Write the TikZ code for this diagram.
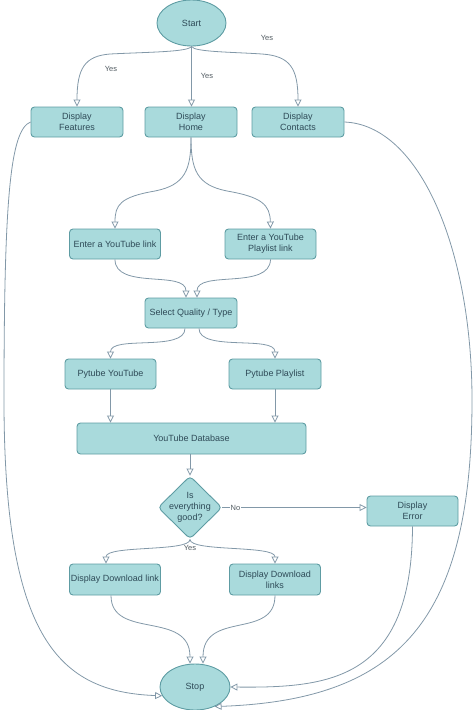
\documentclass[tikz,border=0pt]{standalone}
\usepackage{fontspec}
\setmainfont{Liberation Sans}
\usetikzlibrary{shapes.geometric,arrows.meta}
\definecolor{boxfill}{HTML}{A9DADC}
\definecolor{boxdraw}{HTML}{5E9CA3}
\definecolor{boxtext}{HTML}{2E4A57}
\definecolor{connc}{HTML}{8298A8}
\definecolor{lblc}{HTML}{505A60}
\begin{document}
\begin{tikzpicture}[x=1pt,y=-1pt,
  box/.style={draw=boxdraw, fill=boxfill, rounded corners=3.5pt, line width=0.9pt,
    minimum width=92pt, minimum height=30pt, inner sep=0pt, align=center,
    font=\fontsize{9}{11}\selectfont, text=boxtext},
  term/.style={ellipse, draw=boxdraw, fill=boxfill, line width=0.9pt, inner sep=0pt,
    font=\fontsize{9}{11}\selectfont, text=boxtext},
  conn/.style={draw=connc, line width=0.8pt, -{Triangle[open,length=7pt,width=7pt]}},
  lbl/.style={font=\fontsize{7.5}{9}\selectfont, text=lblc, inner sep=0.8pt}]
\useasboundingbox (0,0) rectangle (474,710);

% nodes
\node[term, minimum width=69pt, minimum height=46pt] (start) at (191.5,23) {Start};
\node[box] (feat) at (77,122) {Display\\Features};
\node[box] (home) at (191,122) {Display\\Home};
\node[box] (cont) at (298,122) {Display\\Contacts};
\node[box, minimum width=91pt] (link) at (115,244) {Enter a YouTube link};
\node[box, minimum width=91pt] (plist) at (270.5,244) {Enter a YouTube\\Playlist link};
\node[box] (sel) at (191,313) {Select Quality / Type};
\node[box, minimum width=91pt] (pyy) at (110.5,374) {Pytube YouTube};
\node[box] (pyp) at (275,374) {Pytube Playlist};
\node[box, minimum width=229pt, minimum height=31pt] (db) at (191.5,438.5) {YouTube Database};
\node[diamond, draw=boxdraw, fill=boxfill, line width=0.9pt, rounded corners=4pt,
  minimum width=64pt, minimum height=63pt, inner sep=0pt] (dec) at (190,507.5) {};
\node[align=center, font=\fontsize{9}{11}\selectfont, text=boxtext, inner sep=0pt] (dectext) at (dec.center) {Is\\everything\\good?};
\node[box, minimum width=91pt] (err) at (412.5,511) {Display\\Error};
\node[box, minimum width=91pt, minimum height=31pt] (dl) at (115,579.5) {Display Download link};
\node[box, minimum width=91pt, minimum height=31pt] (dls) at (275,579.5) {Display Download\\links};
\node[term, minimum width=70pt, minimum height=46pt] (stop) at (195,687) {Stop};

% connectors from Start
\draw[conn] (start.south) .. controls (188,52) and (150,52) .. (110,54)
  .. controls (85,56) and (77,68) .. (feat.north);
\draw[conn] (start.south) -- (start.south |- home.north);
\draw[conn] (start.south) .. controls (194,52) and (232,52) .. (262,54)
  .. controls (290,56) and (298,68) .. (cont.north);

% Home to link entries
\draw[conn] (home.south) .. controls (191,170) and (185,185) .. (155,191)
  .. controls (120,197) and (115,205) .. (link.north);
\draw[conn] (home.south) .. controls (191,170) and (197,185) .. (227,191)
  .. controls (262,197) and (270,205) .. (plist.north);

% link entries to select
\draw[conn] (link.south) .. controls (115,290) and (186,270) .. ([xshift=-5pt]sel.north);
\draw[conn] (plist.south) .. controls (270,290) and (197,270) .. ([xshift=6pt]sel.north);

% select to pytube
\draw[conn] ([xshift=-6pt]sel.south) .. controls (185,352) and (110.5,335) .. (pyy.north);
\draw[conn] ([xshift=8pt]sel.south) .. controls (199,352) and (275,335) .. (pyp.north);

% pytube to database
\draw[conn] (pyy.south) -- (pyy.south |- db.north);
\draw[conn] (pyp.south) -- (pyp.south |- db.north);

% database to decision
\draw[conn] (db.south -| dec.north) -- (dec.north);

% decision no
\draw[conn] (dec.east) -- (err.west |- dec.east)
  node[lbl, fill=white, pos=0.09] (nolbl) {No};

% decision yes
\draw[conn] (dec.south) .. controls (190,552) and (106,545) .. ([xshift=-9pt]dl.north);
\draw[conn] (dec.south) .. controls (190,552) and (275,545) .. (dls.north);
\node[lbl, fill=white] (yes4) at (190,548) {Yes};

% downloads to stop
\draw[conn] ([xshift=-4pt]dl.south) .. controls (111,640) and (190,610) .. ([xshift=-5pt]stop.north);
\draw[conn] (dls.south) .. controls (275,640) and (203,610) .. ([xshift=8pt]stop.north);

% long connectors to stop
\draw[conn] (feat.west) .. controls (10,130) and (4,200) .. (4,400)
  .. controls (4,640) and (60,692) .. (stop.195);
\draw[conn] (cont.east) .. controls (420,125) and (472,250) .. (472,400)
  .. controls (472,620) and (400,700) .. (stop.-45);
\draw[conn] (err.south) .. controls (412,680) and (330,688) .. (stop.east);

% yes labels
\node[lbl] (yes1) at (111,69) {Yes};
\node[lbl] (yes2) at (207,76) {Yes};
\node[lbl] (yes3) at (267,38) {Yes};
\end{tikzpicture}
\end{document}
